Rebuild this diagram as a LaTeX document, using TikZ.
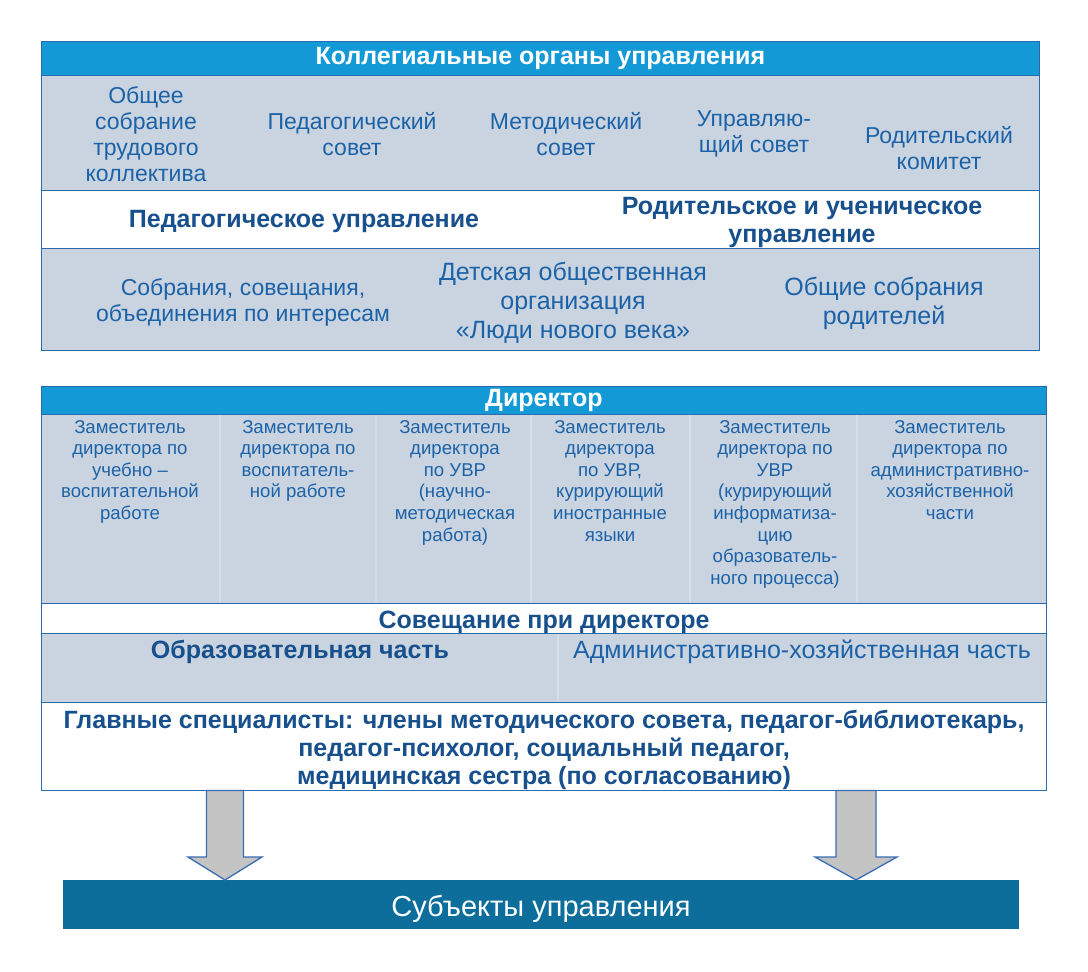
\documentclass[tikz,border=0pt]{standalone}
\usepackage{fontspec}
\setmainfont{Liberation Sans}
\usetikzlibrary{calc}
\definecolor{grayf}{HTML}{C9D4E0}
\definecolor{hdrblue}{HTML}{139AD6}
\definecolor{bordc}{HTML}{2A6AAE}
\definecolor{textblue}{HTML}{1C62A8}
\definecolor{boldblue}{HTML}{17508C}
\definecolor{barblue}{HTML}{0D6E9B}
\definecolor{sepc}{HTML}{D5DEE8}
\definecolor{arrfill}{HTML}{C4C4C4}
\definecolor{arrbord}{HTML}{3A6DB0}
\begin{document}
\begin{tikzpicture}[x=1pt,y=-1pt,
  frame/.style={draw=bordc,line width=1pt},
  rowline/.style={draw=bordc,line width=1pt},
  hdr/.style={fill=hdrblue,draw=bordc,line width=0.8pt,text=white,inner sep=0pt,anchor=north west,font=\bfseries\fontsize{25}{28}\selectfont},
  cell/.style={inner sep=0pt,anchor=north west},
  txt/.style={text=textblue,align=center,inner sep=0pt,font=\fontsize{23}{26}\selectfont},
  ltxt/.style={text=textblue,align=center,inner sep=0pt,font=\fontsize{25}{29}\selectfont},
  btxt/.style={text=boldblue,align=center,inner sep=0pt,font=\bfseries\fontsize{25}{28}\selectfont},
  dep/.style={text=textblue,align=center,inner sep=0pt,anchor=north,font=\fontsize{18.6}{21.6}\selectfont},
  sep/.style={draw=sepc,line width=1.2pt},
  barrow/.style={fill=arrfill,draw=arrbord,line width=1.3pt,line join=miter}
]
\useasboundingbox[fill=white] (0,0) rectangle (1088,972);

% ---------- Box 1 ----------
\node[cell,fill=grayf,minimum width=998pt,minimum height=115pt] (r1) at (41,75) {};
\node[cell,fill=white,minimum width=998pt,minimum height=58pt] (r2) at (41,190) {};
\node[cell,fill=grayf,minimum width=998pt,minimum height=102pt] (r3) at (41,248) {};
\node[hdr,minimum width=998pt,minimum height=34pt] (h1) at (41,41) {Коллегиальные органы управления};
\draw[rowline] (r1.north west) -- (r1.north east);
\draw[rowline] (r2.north west) -- (r2.north east);
\draw[rowline] (r3.north west) -- (r3.north east);
\draw[frame] (h1.north west) rectangle (r3.south east);

\node[txt] (c11) at (146,134) {Общее\\собрание\\трудового\\коллектива};
\node[txt] (c12) at (352,134) {Педагогический\\совет};
\node[txt] (c13) at (566,134) {Методический\\совет};
\node[txt] (c14) at (754,134) {Управляю-\\щий совет};
\node[txt] (c15) at (939,148) {Родительский\\комитет};

\node[btxt] (p1) at (304,221) {Педагогическое управление};
\node[btxt] (p2) at (802,222) {Родительское и ученическое\\управление};

\node[txt] (d1) at (243,302) {Собрания, совещания,\\объединения по интересам};
\node[ltxt] (d2) at (573,303) {Детская общественная\\организация\\«Люди нового века»};
\node[ltxt] (d3) at (884,303) {Общие собрания\\родителей};

% ---------- Box 2 ----------
\node[cell,fill=grayf,minimum width=1005pt,minimum height=189pt] (q1) at (41,414) {};
\node[cell,fill=white,minimum width=1005pt,minimum height=30pt] (q2) at (41,603) {};
\node[cell,fill=grayf,minimum width=1005pt,minimum height=69pt] (q3) at (41,633) {};
\node[cell,fill=white,minimum width=1005pt,minimum height=88pt] (spec) at (41,702) {};
\node[hdr,minimum width=1005pt,minimum height=28pt] (h2) at (41,386) {Директор};

\foreach \x in {220,376,531,690,857} \draw[sep] (\x,415) -- (\x,602);
\draw[sep] (558,634) -- (558,701);

\draw[rowline] (q1.north west) -- (q1.north east);
\draw[rowline] (q2.north west) -- (q2.north east);
\draw[rowline] (q3.north west) -- (q3.north east);
\draw[rowline] (spec.north west) -- (spec.north east);
\draw[frame] (h2.north west) rectangle (spec.south east);

\node[dep] (z1) at (130,420) {Заместитель\\директора по\\учебно –\\воспитательной\\работе};
\node[dep] (z2) at (298,420) {Заместитель\\директора по\\воспитатель-\\ной работе};
\node[dep] (z3) at (455,420) {Заместитель\\директора\\по УВР\\(научно-\\методическая\\работа)};
\node[dep] (z4) at (610,420) {Заместитель\\директора\\по УВР,\\курирующий\\иностранные\\языки};
\node[dep] (z5) at (775,420) {Заместитель\\директора по\\УВР\\(курирующий\\информатиза-\\цию\\образователь-\\ного процесса)};
\node[dep] (z6) at (950,420) {Заместитель\\директора по\\административно-\\хозяйственной\\части};

\node[btxt] (sov) at (544,622) {Совещание при директоре};
\node[btxt] (obr) at (300,652) {Образовательная часть};
\node[ltxt] (adm) at (802,652) {Административно-хозяйственная часть};
\node[btxt] (gl) at (544,750) {Главные специалисты: члены методического совета, педагог-библиотекарь,\\педагог-психолог, социальный педагог,\\медицинская сестра (по согласованию)};

% ---------- Bottom bar ----------
\node[cell,fill=barblue,minimum width=956pt,minimum height=49pt] (subj) at (63,880) {};
\node[text=white,inner sep=0pt,font=\fontsize{29}{32}\selectfont] (subjt) at (541,909) {Субъекты управления};

% ---------- Block arrows ----------
\coordinate (xa) at (225,0);
\coordinate (xb) at (856,0);
\coordinate (ta) at (spec.south -| xa);
\coordinate (ba) at (subj.north -| xa);
\coordinate (tb) at (spec.south -| xb);
\coordinate (bb) at (subj.north -| xb);
\draw[barrow] ($(ta)+(-18.5,0)$) -- ($(ta)+(18.5,0)$) -- ($(ba)+(18.5,-23)$) -- ($(ba)+(37,-23)$) -- (ba) -- ($(ba)+(-37,-23)$) -- ($(ba)+(-18.5,-23)$) -- cycle;
\draw[barrow] ($(tb)+(-20,0)$) -- ($(tb)+(20,0)$) -- ($(bb)+(20,-23)$) -- ($(bb)+(41,-23)$) -- (bb) -- ($(bb)+(-41,-23)$) -- ($(bb)+(-20,-23)$) -- cycle;
\end{tikzpicture}
\end{document}
